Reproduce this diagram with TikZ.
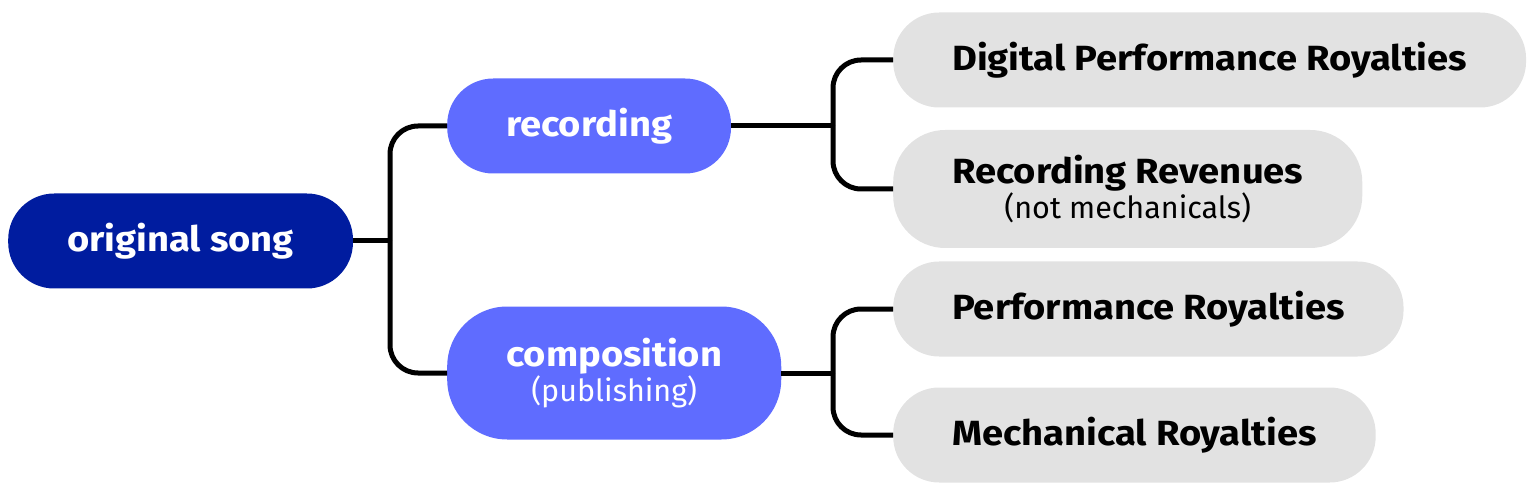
\documentclass[tikz,border=0pt]{standalone}
\usepackage{fontspec}
\setmainfont{Fira Sans}[BoldFeatures={FakeStretch=1.09}]
\usetikzlibrary{shapes}

\definecolor{songblue}{HTML}{001C9F}
\definecolor{partblue}{HTML}{5F6CFF}
\definecolor{incomegray}{HTML}{E2E2E2}

\newcommand{\sublabel}[1]{{\fontsize{30.5}{35}\selectfont\mdseries #1}}

\begin{document}
\begin{tikzpicture}[x=1pt, y=-1pt,
  pill/.style={rounded corners=46pt, inner xsep=59pt, inner ysep=0pt, minimum height=95pt, align=center, font=\fontsize{35}{35}\selectfont\bfseries},
  song/.style={pill, fill=songblue, text=white},
  part/.style={pill, fill=partblue, text=white},
  income/.style={pill, fill=incomegray, text=black},
  link/.style={line width=5pt, rounded corners=28pt}]
\useasboundingbox (0,0) rectangle (1536,494);

\node[song, anchor=west] (song) at (8,241) {original song};
\node[part, anchor=west] (rec) at (447,126) {recording};
\node[part, anchor=west, minimum height=133pt, rounded corners=60pt] (comp) at (447,373) {composition\\\sublabel{(publishing)}};

\node[income, anchor=west] (dpr) at (893,60) {Digital Performance Royalties};
\node[income, anchor=west, minimum height=118pt, rounded corners=52pt] (rr) at (893,189) {Recording Revenues\\\sublabel{(not mechanicals)}};
\node[income, anchor=west] (pr) at (893,309) {Performance Royalties};
\node[income, anchor=west] (mr) at (893,435) {Mechanical Royalties};

\coordinate (j1) at (390,241);
\coordinate (j2) at (833,126);
\coordinate (j3) at (833,373);

\draw[link] (song.east) -- (j1);
\draw[link] (rec.west) -| (j1);
\draw[link] (comp.west) -| (j1);

\draw[link] (rec.east) -- (j2);
\draw[link] (dpr.west) -| (j2);
\draw[link] (rr.west) -| (j2);

\draw[link] (comp.east) -- (j3);
\draw[link] (pr.west) -| (j3);
\draw[link] (mr.west) -| (j3);
\end{tikzpicture}
\end{document}
